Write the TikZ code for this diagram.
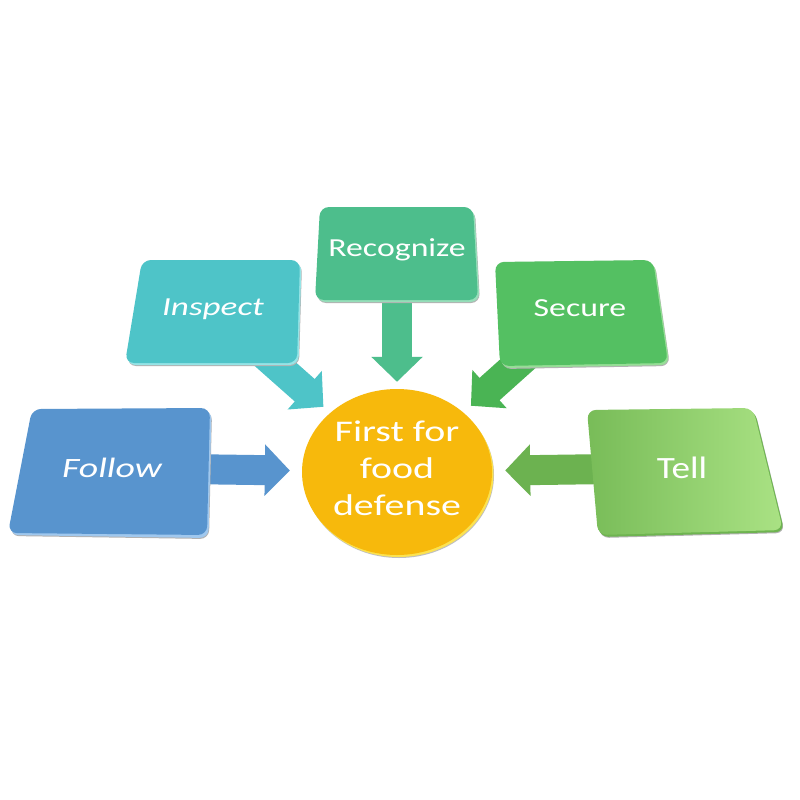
\documentclass[tikz,border=0pt]{standalone}
\usepackage{fontspec}
\setmainfont{Carlito}
\usetikzlibrary{arrows.meta,shapes.geometric}
\pgfdeclarelayer{bglayer}
\pgfdeclarelayer{arrowlayer}
\pgfdeclarelayer{boxlayer}
\pgfsetlayers{bglayer,arrowlayer,boxlayer,main}
\definecolor{cFollow}{RGB}{88,148,206}
\definecolor{cFollowRim}{RGB}{160,200,238}
\definecolor{cInspect}{RGB}{78,196,200}
\definecolor{cInspectRim}{RGB}{150,228,230}
\definecolor{cRecog}{RGB}{77,190,140}
\definecolor{cRecogRim}{RGB}{150,222,185}
\definecolor{cSecure}{RGB}{84,192,98}
\definecolor{cSecureRim}{RGB}{150,222,150}
\definecolor{cSecureArr}{RGB}{74,180,84}
\definecolor{cTellL}{RGB}{120,188,88}
\definecolor{cTellR}{RGB}{170,226,132}
\definecolor{cTellRim}{RGB}{110,180,80}
\definecolor{cTellArr}{RGB}{108,178,80}
\definecolor{cCirc}{RGB}{247,185,12}
\definecolor{cCircRim}{RGB}{252,226,80}
\newcommand\stretchtxt[2]{\scalebox{#1}[1]{#2}}
\tikzset{
  lbl/.style={text=white, inner sep=0pt},
  blockarr/.style={line width=30pt, -{Triangle[length=25pt,width=50pt]}},
  boxshape/.style={rounded corners=9pt},
  shadowbox/.style={fill=black!30, rounded corners=9pt},
}
\begin{document}
\begin{tikzpicture}[x=1pt,y=-1pt]
\begin{pgfonlayer}{bglayer}
\fill[white] (0,0) rectangle (800,800);
\end{pgfonlayer}
\useasboundingbox (0,0) rectangle (800,800);

% center circle
\node[ellipse, fill=cCirc, minimum width=190pt, minimum height=166pt, inner sep=0pt] (circ) at (397,472) {};
\node[lbl] (circtxt) at (397,471) {\stretchtxt{1.33}{\fontsize{30}{37}\selectfont\begin{tabular}{@{}c@{}}First for\\food\\defense\end{tabular}}};

% labels
\node[lbl] (follow) at (112,468) {\stretchtxt{1.35}{\fontsize{28}{32}\selectfont\itshape Follow}};
\node[lbl] (inspect) at (213,309) {\stretchtxt{1.35}{\fontsize{26}{30}\selectfont\itshape Inspect}};
\node[lbl] (recog) at (397,250) {\stretchtxt{1.3}{\fontsize{26}{30}\selectfont Recognize}};
\node[lbl] (secure) at (580,308) {\stretchtxt{1.3}{\fontsize{26}{30}\selectfont Secure}};
\node[lbl] (tell) at (682,468) {\stretchtxt{1.2}{\fontsize{31}{34}\selectfont Tell}};

\begin{pgfonlayer}{boxlayer}
  % circle rim
  \fill[black!25] (399,475) ellipse [x radius=95pt, y radius=83pt];
  \fill[cCircRim] (398.5,474) ellipse [x radius=95pt, y radius=83pt];
  % Follow
  \fill[shadowbox] (34,412) -- (212,411) -- (209,539) -- (10,536) -- cycle;
  \fill[cFollowRim, boxshape] (33.5,411) -- (211.5,410) -- (208.5,538) -- (9.5,535) -- cycle;
  \fill[cFollow, boxshape] (32,409) -- (210,408) -- (207,535) -- (8,533) -- cycle;
  % Inspect
  \fill[shadowbox] (144,263) -- (302,263) -- (299,366) -- (127,366) -- cycle;
  \fill[cInspectRim, boxshape] (143.5,262) -- (301.5,262) -- (298.5,365) -- (126.5,365) -- cycle;
  \fill[cInspect, boxshape] (142,260) -- (300,260) -- (297,363) -- (125,363) -- cycle;
  % Recognize
  \fill[shadowbox] (322,210) -- (475,210) -- (480,303) -- (317,303) -- cycle;
  \fill[cRecogRim, boxshape] (321.5,209) -- (474.5,209) -- (479.5,302) -- (316.5,302) -- cycle;
  \fill[cRecog, boxshape] (320,207) -- (473,207) -- (478,300) -- (315,300) -- cycle;
  % Secure
  \fill[shadowbox] (497,265) -- (655,263) -- (670,366) -- (502,369) -- cycle;
  \fill[cSecureRim, boxshape] (496.5,264) -- (654.5,262) -- (669.5,365) -- (501.5,368) -- cycle;
  \fill[cSecure, boxshape] (495,262) -- (653,260) -- (668,363) -- (500,366) -- cycle;
  % Tell
  \fill[shadowbox] (589,413) -- (755,411) -- (785,533) -- (600,538) -- cycle;
  \fill[cTellRim, boxshape] (588.5,412) -- (754.5,410) -- (784.5,532) -- (599.5,537) -- cycle;
  \shade[left color=cTellL, right color=cTellR, boxshape] (587,410) -- (753,408) -- (783,530) -- (598,535) -- cycle;
\end{pgfonlayer}

\begin{pgfonlayer}{arrowlayer}
  \draw[blockarr, cFollow, shorten >=12pt] (follow) -- (circ);
  \draw[blockarr, cInspect, shorten >=9pt] (inspect) -- (circ);
  \draw[blockarr, cRecog, shorten >=7pt] (recog) -- (circ);
  \draw[blockarr, cSecureArr, shorten >=10pt] (secure) -- (circ);
  \draw[blockarr, cTellArr, shorten >=13pt] (tell) -- (circ);
\end{pgfonlayer}
\end{tikzpicture}
\end{document}
